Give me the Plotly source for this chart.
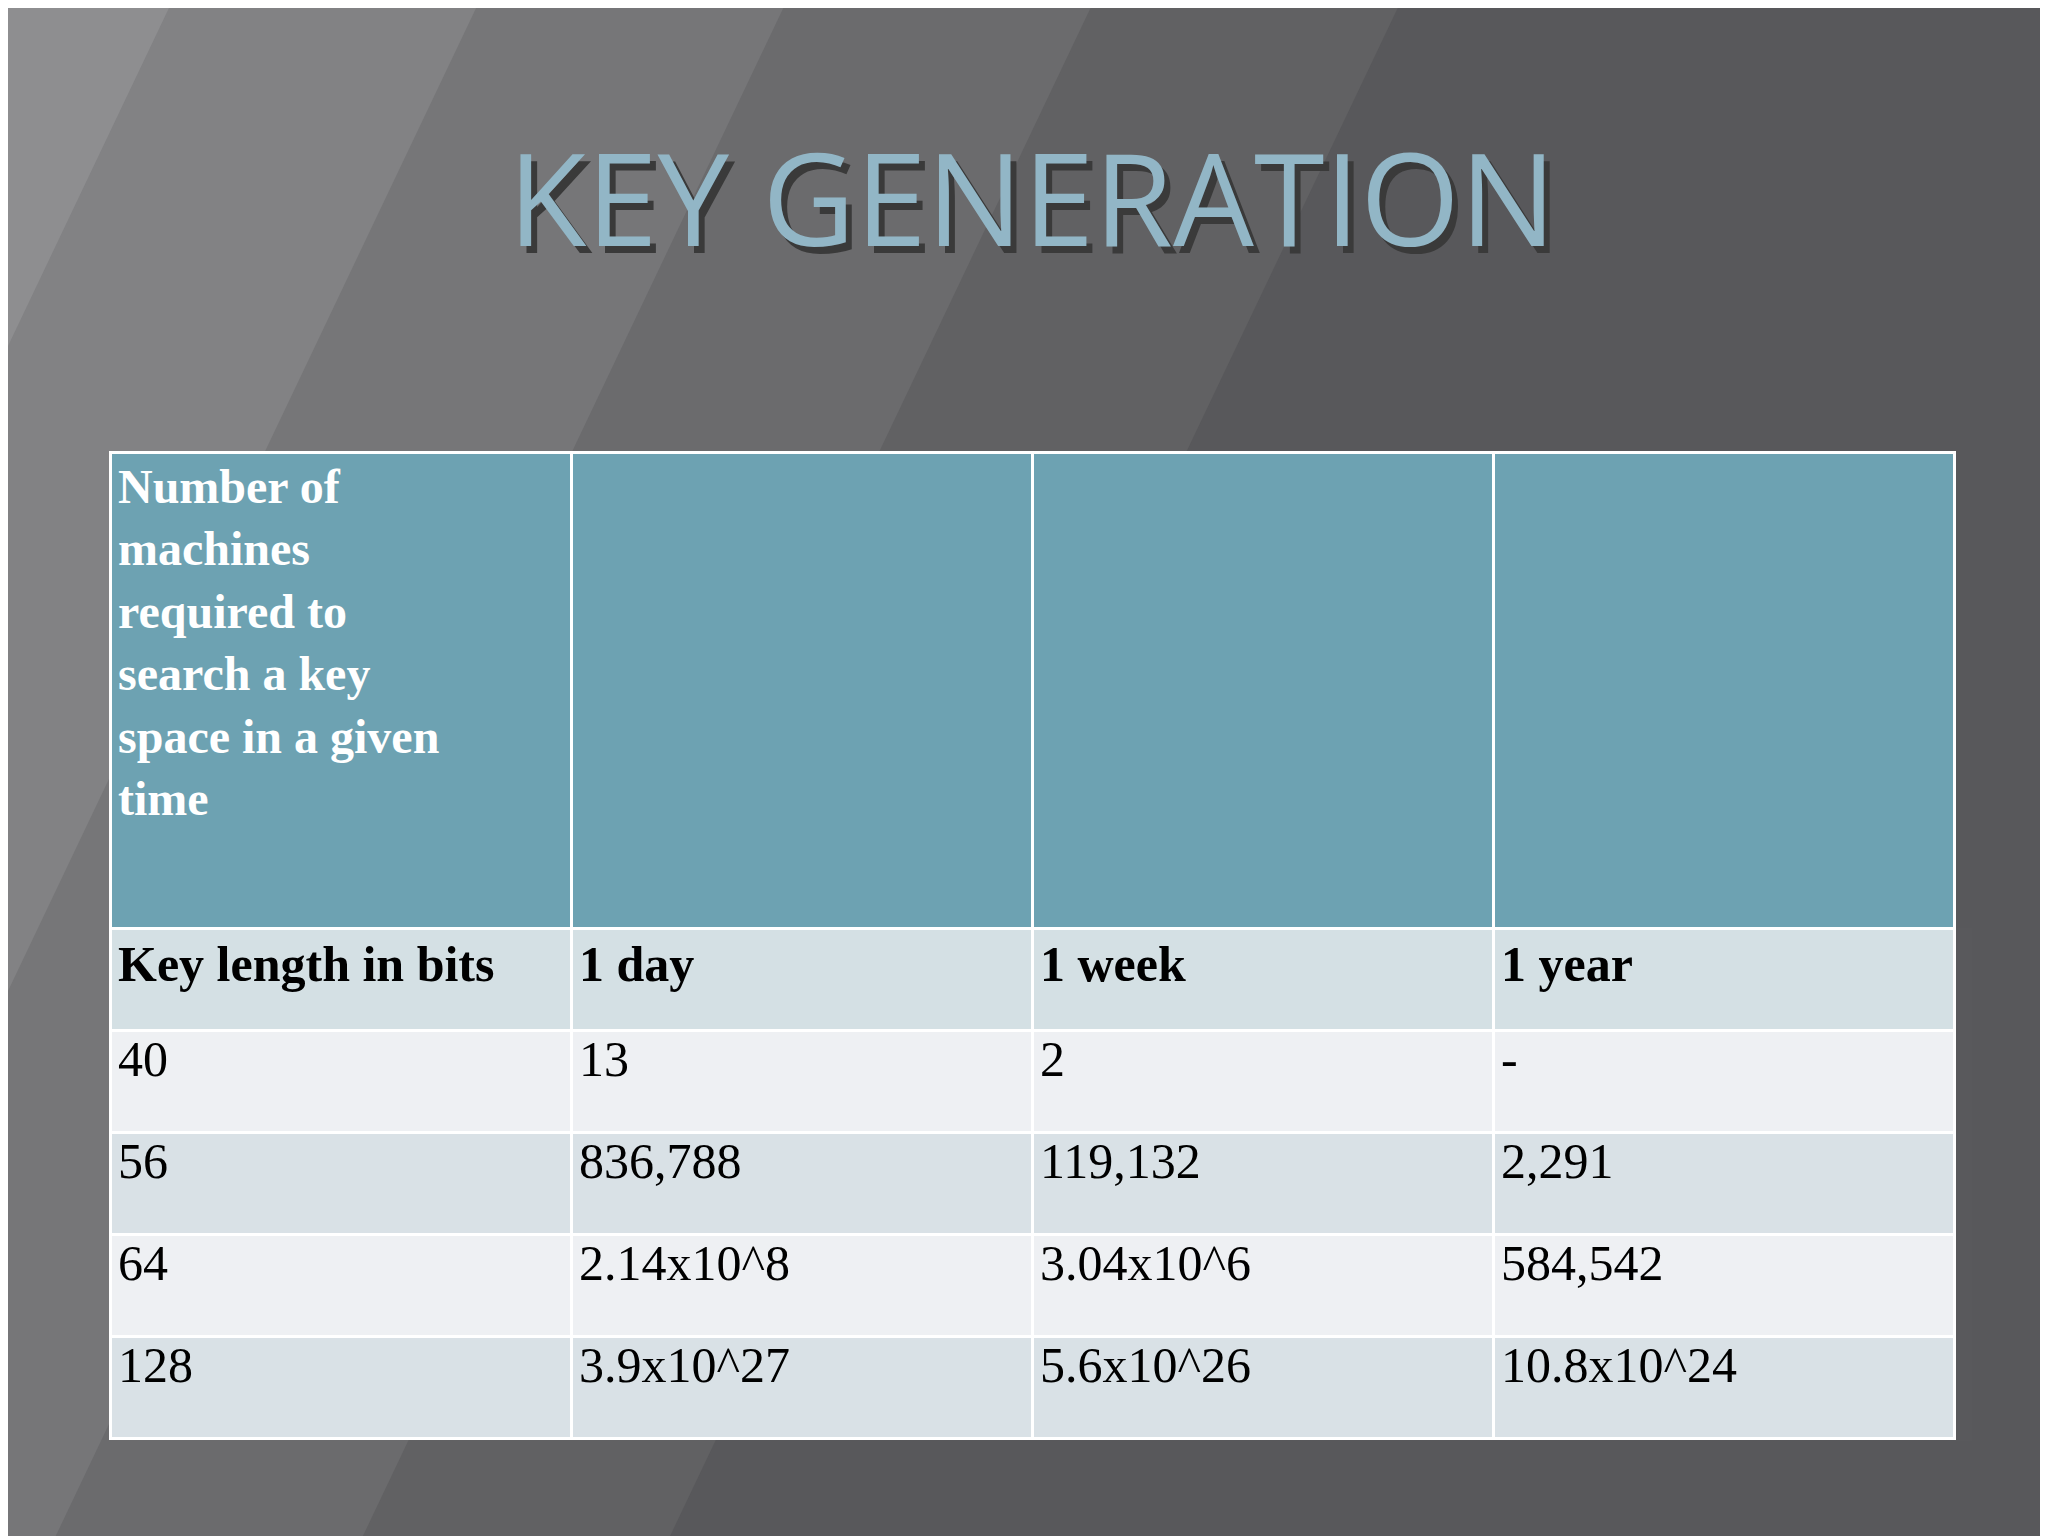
import plotly.graph_objects as go

header_texts = ["Number of<br>machines<br>required to<br>search a key<br>space in a given<br>time", "", "", ""]
col_key = ["<b>Key length in bits</b>", "40", "56", "64", "128"]
col_day = ["<b>1 day</b>", "13", "836,788", "2.14x10^8", "3.9x10^27"]
col_week = ["<b>1 week</b>", "2", "119,132", "3.04x10^6", "5.6x10^26"]
col_year = ["<b>1 year</b>", "-", "2,291", "584,542", "10.8x10^24"]

row_colors = ["#d4e0e4", "#eef0f3", "#d9e1e6", "#eef0f3", "#d9e1e6"]

fig = go.Figure()
fig.add_trace(go.Table(
    domain=dict(x=[102/2048, 1946/2048], y=[1-1433/1536, 1-444/1536]),
    columnwidth=[1, 1, 1, 1],
    header=dict(values=["<b>"+h+"</b>" if h else "" for h in header_texts],
                fill_color="#6da2b2", line=dict(color="white", width=3),
                align="left", height=476,
                font=dict(family="Liberation Serif", size=48, color="white")),
    cells=dict(values=[col_key, col_day, col_week, col_year],
               fill_color=[row_colors]*4, line=dict(color="white", width=3),
               align="left", height=102,
               font=dict(family="Liberation Serif", size=50, color="black")),
))

shapes = []
bands = [("#8e8e90", 0.0), ("#828284", 0.15), ("#767678", 0.3), ("#6b6b6d", 0.45), ("#616163", 0.6), ("#58585b", 0.75)]
for col, s in bands:
    shapes.append(dict(type="path", xref="paper", yref="paper", layer="below",
                       path=f"M {s} 1.2 L 1.2 1.2 L 1.2 -0.2 L {s-0.5} -0.2 Z",
                       fillcolor=col, line=dict(width=0)))

fig.update_layout(
    width=2048, height=1536, margin=dict(l=0, r=0, t=0, b=0),
    paper_bgcolor="#9a9a9c", plot_bgcolor="rgba(0,0,0,0)", shapes=shapes,
    annotations=[
        dict(text="KEY GENERATION", x=0.503, y=0.873, xref="paper", yref="paper",
             xanchor="center", yanchor="middle",
             showarrow=False, font=dict(family="Open Sans", size=128, color="#3a3a3a")),
        dict(text="KEY GENERATION", x=0.5, y=0.877, xref="paper", yref="paper",
             xanchor="center", yanchor="middle",
             showarrow=False, font=dict(family="Open Sans", size=128, color="#92b6c6")),
    ],
)
fig.write_html("out.html")
